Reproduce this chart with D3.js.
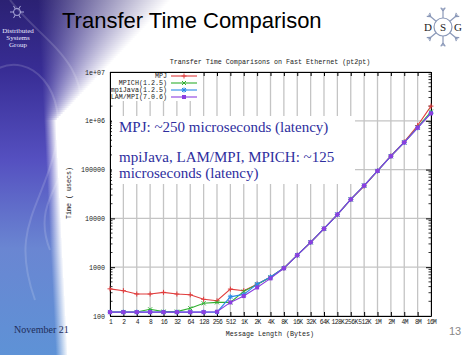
<!DOCTYPE html>
<html><head><meta charset="utf-8">
<script src="https://cdn.jsdelivr.net/npm/d3@7"></script>
<style>body{margin:0;background:#fff}svg{display:block}</style>
</head><body><svg id="c" width="474" height="355"></svg>
<script>
const categories = ["1","2","4","8","16","32","64","128","256","512","1K","2K","4K","8K","16K","32K","64K","128K","256K","512K","1M","2M","4M","8M","16M"];
const seriesNames = ["MPJ","MPICH(1.2.5)","mpiJava(1.2.5)","LAM/MPI(7.0.6)"];
const mpj     = [360,330,282,282,305,282,272,220,205,356,330,450,632,960,1760,3240,6150,12000,24500,46000,94000,190000,370000,800000,2000000];
const mpich   = [121,121,121,137,123,123,144,182,190,190,320,440,620,960,1760,3240,6150,12000,24500,47000,94000,188000,360000,730000,1550000];
const mpijava = [120,120,120,120,120,120,120,120,120,247,277,450,630,960,1760,3240,6150,12000,24500,47000,94000,188000,360000,720000,1450000];
const lam     = [120,120,120,120,120,120,120,120,122,190,256,385,590,950,1760,3240,6150,12000,24500,47000,94000,188000,360000,720000,1420000];
const yTickValues = [100,1000,10000,100000,1000000,10000000];
const yTickLabels = ["100","1000","10000","100000","1e+06","1e+07"];

const svg = d3.select("#c");
const defs = svg.append("defs");

// ---- slide background: left sidebar ----
const vg = defs.append("linearGradient").attr("id","side").attr("x1",0).attr("y1",0).attr("x2",0).attr("y2",1);
[[0,"#2b2173"],[0.2,"#382d95"],[0.45,"#5550c0"],[0.7,"#6a86d2"],[1,"#5e92d6"]].forEach(s=>vg.append("stop").attr("offset",s[0]).attr("stop-color",s[1]));
const fg = defs.append("linearGradient").attr("id","fade").attr("x1",0).attr("y1",0).attr("x2",1).attr("y2",0);
fg.append("stop").attr("offset",0).attr("stop-color","#fff").attr("stop-opacity",0);
fg.append("stop").attr("offset",1).attr("stop-color","#fff").attr("stop-opacity",1);
svg.append("rect").attr("x",0).attr("y",0).attr("width",180).attr("height",355).attr("fill","url(#side)");
// swirls
const sw = svg.append("g").attr("fill","none").attr("stroke","#ffffff").attr("stroke-opacity",0.15).attr("stroke-width",2);
sw.append("path").attr("d","M-5,70 C30,50 70,90 55,150 S10,230 35,300");
sw.append("path").attr("d","M10,0 C40,40 90,60 80,120 S30,200 50,250");
const fs = y => 38 + 18*y/355;
const fe = y => Math.max(fs(y)+12, 170 - 0.95*y);
const strips = d3.range(0,355,2);
svg.append("g").selectAll("rect").data(strips).join("rect")
  .attr("x",d=>fs(d)).attr("y",d=>d).attr("width",d=>fe(d)-fs(d)).attr("height",2)
  .attr("fill","url(#fade)").attr("shape-rendering","crispEdges");
svg.append("g").selectAll("rect").data(strips).join("rect")
  .attr("x",d=>fe(d)-0.5).attr("y",d=>d).attr("width",d=>181-fe(d)).attr("height",2)
  .attr("fill","#fff").attr("shape-rendering","crispEdges");

// small logo in sidebar
const sl = svg.append("g").attr("transform","translate(17,12)").attr("stroke","#c8c8f0").attr("fill","none").attr("stroke-width",0.8);
sl.append("circle").attr("r",3.5);
d3.range(6).forEach(i=>{const a=i*Math.PI/3; sl.append("line").attr("x1",3.5*Math.cos(a)).attr("y1",3.5*Math.sin(a)).attr("x2",7*Math.cos(a)).attr("y2",7*Math.sin(a));});
const sideText = ["Distributed","Systems","Group"];
svg.append("g").selectAll("text").data(sideText).join("text")
  .attr("x",18).attr("y",(d,i)=>33+i*7).attr("text-anchor","middle")
  .attr("font-family","Liberation Serif, serif").attr("font-size",7).attr("fill","#e8e8ff").text(d=>d);

// title
svg.append("text").attr("x",62).attr("y",28).attr("font-family","Liberation Sans, Arial, sans-serif")
  .attr("font-size",22).attr("fill","#000").text("Transfer Time Comparison");

// DSG logo
const lg = svg.append("g").attr("transform","translate(443,27)").attr("stroke","#8a98b8").attr("fill","none").attr("stroke-width",1.2);
lg.append("circle").attr("r",9);
[-90,90,-40,-140,40,140].forEach(deg=>{
  const a=deg*Math.PI/180, c=Math.cos(a), s=Math.sin(a);
  const r1=9, r2=19;
  lg.append("line").attr("x1",r1*c).attr("y1",r1*s).attr("x2",r2*c).attr("y2",r2*s);
  [0.6,-0.6].forEach(o=>{const b=a+o; lg.append("line").attr("x1",(r2-3)*c).attr("y1",(r2-3)*s).attr("x2",(r2-3)*c+4*Math.cos(b)).attr("y2",(r2-3)*s+4*Math.sin(b));});
});
svg.append("g").selectAll("text").data([["D",-15],["S",0],["G",15]]).join("text")
  .attr("x",d=>443+d[1]).attr("y",31).attr("text-anchor","middle")
  .attr("font-family","Liberation Serif, serif").attr("font-size",11).attr("fill","#222").text(d=>d[0]);

// footer
svg.append("text").attr("x",14).attr("y",333).attr("font-family","Liberation Serif, serif").attr("font-size",10).attr("fill","#1f2d5a").text("November 21");
svg.append("text").attr("x",449).attr("y",335).attr("font-family","Liberation Sans, Arial, sans-serif").attr("font-size",11).attr("fill","#888").text("13");

// ---- chart ----
const L=110, R=431, T=72, B=316;
const x = d3.scalePoint().domain(categories).range([L,R]);
const y = d3.scaleLog().domain([100,1e7]).range([B,T]);
const mono = "Liberation Mono, DejaVu Sans Mono, monospace";
const fsz = 6.7;

const g = svg.append("g");
// grid
g.append("g").selectAll("line").data(categories).join("line")
  .attr("x1",d=>x(d)).attr("x2",d=>x(d)).attr("y1",T).attr("y2",B)
  .attr("stroke","#c4c4c4").attr("stroke-width",1.3);
g.append("g").selectAll("line").data(yTickValues).join("line")
  .attr("x1",L).attr("x2",R).attr("y1",d=>y(d)).attr("y2",d=>y(d))
  .attr("stroke","#c4c4c4").attr("stroke-width",1.3);

// axes via d3
g.append("g").attr("transform",`translate(${L},0)`)
  .call(d3.axisLeft(y).tickValues(yTickValues).tickFormat((d,i)=>yTickLabels[i]).tickSizeInner(-5).tickSizeOuter(0).tickPadding(5))
  .call(s=>{s.select(".domain").attr("stroke","#000");s.selectAll("text").attr("font-family",mono).attr("font-size",fsz).attr("fill","#222");});
g.append("g").attr("transform",`translate(${R},0)`)
  .call(d3.axisRight(y).tickValues(yTickValues).tickFormat("").tickSizeInner(-5).tickSizeOuter(0))
  .call(s=>s.select(".domain").attr("stroke","#000"));
g.append("g").attr("transform",`translate(0,${B})`)
  .call(d3.axisBottom(x).tickSizeInner(-4).tickSizeOuter(0).tickPadding(4))
  .call(s=>{s.select(".domain").attr("stroke","#000");s.selectAll("text").attr("font-family",mono).attr("font-size",6.3).attr("letter-spacing",-0.55).attr("fill","#222");});
g.append("g").attr("transform",`translate(0,${T})`)
  .call(d3.axisTop(x).tickFormat("").tickSizeInner(-4).tickSizeOuter(0))
  .call(s=>s.select(".domain").attr("stroke","#000"));
// minor ticks
const minors=[];
[100,1000,10000,100000,1000000].forEach(d=>{for(let k=2;k<=9;k++)minors.push(k*d);});
g.append("g").selectAll("line").data(minors).join("line")
  .attr("x1",L).attr("x2",L+2.5).attr("y1",d=>y(d)).attr("y2",d=>y(d)).attr("stroke","#000").attr("stroke-width",0.8);
g.append("g").selectAll("line").data(minors).join("line")
  .attr("x1",R).attr("x2",R-2.5).attr("y1",d=>y(d)).attr("y2",d=>y(d)).attr("stroke","#000").attr("stroke-width",0.8);

// axis titles
svg.append("text").attr("x",270).attr("y",64).attr("text-anchor","middle").attr("font-family",mono).attr("font-size",fsz).attr("fill","#222")
  .text("Transfer Time Comparisons on Fast Ethernet (pt2pt)");
svg.append("text").attr("x",270).attr("y",336).attr("text-anchor","middle").attr("font-family",mono).attr("font-size",fsz).attr("fill","#222")
  .text("Message Length (Bytes)");
svg.append("text").attr("transform","translate(71,193) rotate(-90)").attr("text-anchor","middle").attr("font-family",mono).attr("font-size",fsz).attr("fill","#222")
  .text("Time ( usecs)");

// series
const colors = ["#e03c3c","#30b030","#2a8ae8","#8a3ee0"];
const markers = ["plus","x","star","square"];
const data = [mpj,mpich,mpijava,lam];
function marker(sel, type, color){
  if(type==="square"){ sel.append("rect").attr("x",-2).attr("y",-2).attr("width",4).attr("height",4).attr("fill",color); return; }
  let d="";
  if(type==="plus") d="M-2.5,0H2.5M0,-2.5V2.5";
  if(type==="x") d="M-2,-2L2,2M-2,2L2,-2";
  if(type==="star") d="M-2.5,0H2.5M0,-2.5V2.5M-2,-2L2,2M-2,2L2,-2";
  sel.append("path").attr("d",d).attr("stroke",color).attr("stroke-width",1).attr("fill","none");
}
const line = d3.line().x((d,i)=>x(categories[i])).y(d=>y(d));
data.forEach((vals,si)=>{
  const sg = g.append("g");
  sg.append("path").attr("d",line(vals)).attr("fill","none").attr("stroke",colors[si]).attr("stroke-width",1.1);
  vals.forEach((v,i)=>{ const m=sg.append("g").attr("transform",`translate(${x(categories[i])},${y(v)})`); marker(m,markers[si],colors[si]); });
});

// legend
const lgd = g.append("g");
lgd.append("rect").attr("x",L+1).attr("y",T+1).attr("width",88).attr("height",28).attr("fill","#fff");
seriesNames.forEach((n,i)=>{
  const yy = 76 + i*7;
  lgd.append("text").attr("x",167).attr("y",yy).attr("dy","0.35em").attr("text-anchor","end").attr("font-family",mono).attr("font-size",fsz).attr("fill","#222").text(n);
  lgd.append("line").attr("x1",171).attr("x2",197).attr("y1",yy).attr("y2",yy).attr("stroke",colors[i]).attr("stroke-width",1.1);
  const m=lgd.append("g").attr("transform",`translate(184,${yy})`); marker(m,markers[i],colors[i]);
});

// overlay text box
svg.append("rect").attr("x",112).attr("y",116).attr("width",243).attr("height",68).attr("fill","#fff");
const ov = ["MPJ: ~250 microseconds (latency)","mpiJava, LAM/MPI, MPICH: ~125","microseconds (latency)"];
const ovy = [132,162,178];
svg.append("g").selectAll("text").data(ov).join("text")
  .attr("x",119).attr("y",(d,i)=>ovy[i]).attr("font-family","Liberation Serif, Times New Roman, serif")
  .attr("font-size",15).attr("fill","#2e2e9e").text(d=>d);
</script></body></html>
